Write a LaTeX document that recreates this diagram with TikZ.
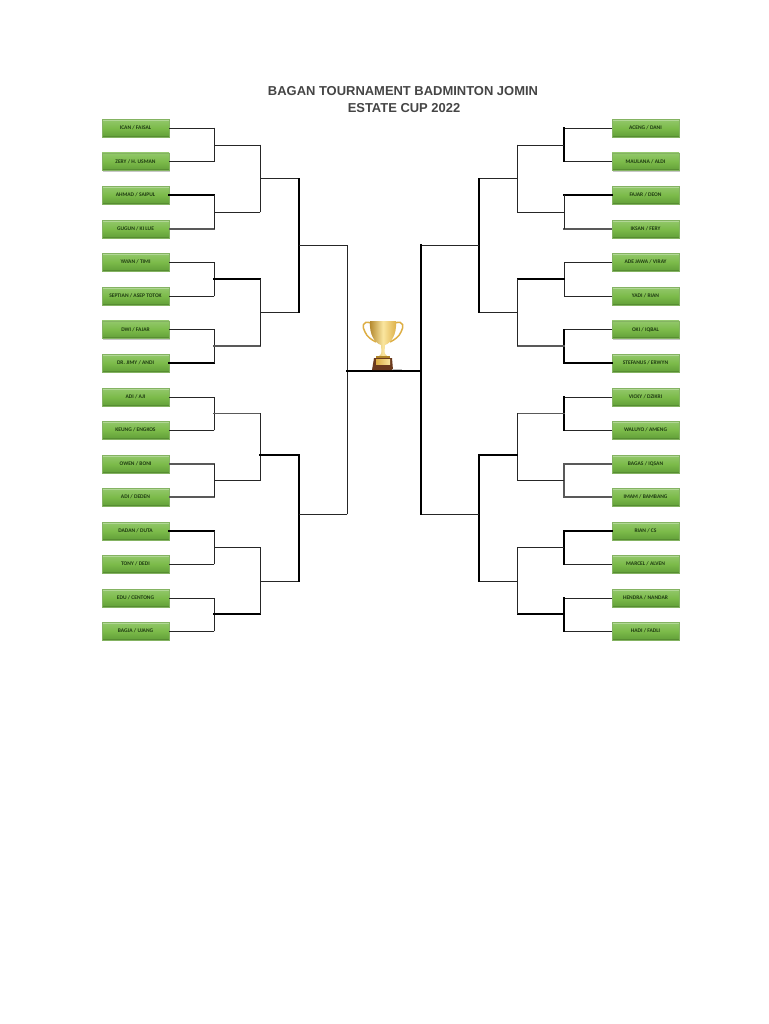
\documentclass[tikz,border=0pt]{standalone}
\usepackage{fontspec}
\setmainfont{Liberation Sans}
\newfontfamily\boxfont{Carlito}
\usetikzlibrary{shadows,calc}
\definecolor{titlegray}{HTML}{454545}
\definecolor{cuplight}{HTML}{FAE6A0}
\definecolor{cupmid}{HTML}{DDAE44}
\definecolor{cupdark}{HTML}{B08428}
\definecolor{basedark}{HTML}{6B3A1E}
\definecolor{boxtop}{HTML}{93C86C}
\definecolor{boxmid}{HTML}{7CBB4A}
\definecolor{boxbot}{HTML}{629F38}
\definecolor{boxedge}{HTML}{84B362}
\definecolor{textdark}{HTML}{1E3A12}
\tikzset{
 team/.style={minimum width=67pt,minimum height=17.5pt,inner sep=0pt,
   top color=boxtop,bottom color=boxbot,middle color=boxmid,
   draw=boxedge,line width=.4pt,
   drop shadow={shadow xshift=.6pt,shadow yshift=-1.4pt,opacity=.22,fill=black},
   path picture={
     \fill[white,opacity=.3] (path picture bounding box.north west) rectangle ($(path picture bounding box.north east)+(0,1.4)$);
     \fill[black,opacity=.12] (path picture bounding box.south west) rectangle ($(path picture bounding box.south east)+(0,-1.2)$);
   },
   font=\boxfont\bfseries\fontsize{5.5}{6}\selectfont,text=textdark},
 thinln/.style={line width=.9pt,black!85,line cap=rect},
 grayln/.style={line width=1.25pt,black!65,line cap=rect},
 thickln/.style={line width=1.9pt,black,line cap=rect},
 titletext/.style={font=\bfseries\fontsize{12.95}{15}\selectfont,text=titlegray,inner sep=0pt}
}
% one horizontal arm: style, source, junction
\newcommand{\arm}[3]{\draw[#1] (#2) -- (#2 -| #3);}
% one vertical arm: style, source, junction
\newcommand{\rise}[3]{\draw[#1] (#2 -| #3) -- (#3);}
\begin{document}
\begin{tikzpicture}[x=1pt,y=-1pt]
\useasboundingbox (0,0) rectangle (768,1024);
\fill[white] (0,0) rectangle (768,1024);
\node[titletext] (t1) at (403,91) {BAGAN TOURNAMENT BADMINTON JOMIN};
\node[titletext] (t2) at (404,108) {ESTATE CUP 2022};
% team boxes
\foreach \n/\y/\txt in {1/128/{ICAN / FAISAL},2/161.5/{ZERY / H. USMAN},3/195/{AHMAD / SAIPUL},4/229/{GUGUN / KI LUE},5/262/{YAYAN / TIMI},6/296/{SEPTIAN / ASEP TOTOK},7/329.5/{DWI / FAJAR},8/363/{DR. JIMY / ANDI},9/397/{ADI / AJI},10/430/{KEUNG / ENGKOS},11/464/{OWEN / BONI},12/497/{ADI / DEDEN},13/531/{DADAN / DUTA},14/564/{TONY / DEDI},15/598/{EDU / CENTONG},16/631/{BAGJA / UJANG}}
  \node[team] (L\n) at (135.5,\y) {\txt};
\foreach \n/\y/\txt in {1/128/{ACENG / DANI},2/161.5/{MAULANA / ALDI},3/195/{FAJAR / DEON},4/229/{IKSAN / FERY},5/262/{ADE JAWA / VIRAY},6/296/{YADI / RIAN},7/329.5/{OKI / IQBAL},8/363/{STEFANUS / ERWYN},9/397/{VICKY / DZIKRI},10/430/{WALUYO / AMENG},11/464/{BAGAS / IQSAN},12/497/{IMAM / BAMBANG},13/531/{RIAN / CS},14/564/{MARCEL / ALVEN},15/598/{HENDRA / NANDAR},16/631/{HADI / FADLI}}
  \node[team] (R\n) at (645.5,\y) {\txt};
% junctions
\foreach \n/\y in {1/145,2/212,3/279,4/346,5/413.5,6/480.5,7/547.5,8/614}{
  \coordinate (la\n) at (214,\y);
  \coordinate (ra\n) at (564,\y);
}
\foreach \n/\y in {1/178.5,2/312.5,3/455,4/581}{
  \coordinate (lb\n) at (260,\y);
  \coordinate (rb\n) at (517.5,\y);
}
\coordinate (lc1) at (299,245); \coordinate (lc2) at (299,514);
\coordinate (rc1) at (479,245); \coordinate (rc2) at (479,514);
\coordinate (ld) at (347,371); \coordinate (rd) at (421,371);
% left round 1, horizontal arms
\arm{thinln}{L1.east}{la1} \arm{thinln}{L2.east}{la1}
\arm{thickln}{L3.east}{la2} \arm{grayln}{L4.east}{la2}
\arm{thinln}{L5.east}{la3} \arm{thinln}{L6.east}{la3}
\arm{thinln}{L7.east}{la4} \arm{thickln}{L8.east}{la4}
\arm{thinln}{L9.east}{la5} \arm{thinln}{L10.east}{la5}
\arm{grayln}{L11.east}{la6} \arm{grayln}{L12.east}{la6}
\arm{thickln}{L13.east}{la7} \arm{thinln}{L14.east}{la7}
\arm{thinln}{L15.east}{la8} \arm{thinln}{L16.east}{la8}
% left round 1, verticals
\foreach \a/\b/\j in {1/2/1,3/4/2,5/6/3,7/8/4,9/10/5,11/12/6,13/14/7,15/16/8}{
  \rise{thinln}{L\a.east}{la\j} \rise{thinln}{L\b.east}{la\j}
}
% left round 2
\arm{thinln}{la1}{lb1} \arm{thinln}{la2}{lb1}
\arm{thickln}{la3}{lb2} \arm{grayln}{la4}{lb2}
\arm{grayln}{la5}{lb3} \arm{thinln}{la6}{lb3}
\arm{thinln}{la7}{lb4} \arm{thickln}{la8}{lb4}
\foreach \a/\b/\j in {1/2/1,3/4/2,5/6/3,7/8/4}{
  \rise{thinln}{la\a}{lb\j} \rise{thinln}{la\b}{lb\j}
}
% left round 3
\arm{thinln}{lb1}{lc1} \arm{thinln}{lb2}{lc1}
\arm{thickln}{lb3}{lc2} \arm{thinln}{lb4}{lc2}
\foreach \a/\b/\j in {1/2/1,3/4/2}{
  \rise{thickln}{lb\a}{lc\j} \rise{thickln}{lb\b}{lc\j}
}
% left round 4
\arm{thinln}{lc1}{ld} \arm{thinln}{lc2}{ld}
\rise{thinln}{lc1}{ld} \rise{thinln}{lc2}{ld}
% right round 1
\arm{thinln}{R1.west}{ra1} \arm{thinln}{R2.west}{ra1}
\arm{thickln}{R3.west}{ra2} \arm{grayln}{R4.west}{ra2}
\arm{thinln}{R5.west}{ra3} \arm{thinln}{R6.west}{ra3}
\arm{thinln}{R7.west}{ra4} \arm{thickln}{R8.west}{ra4}
\arm{thinln}{R9.west}{ra5} \arm{thinln}{R10.west}{ra5}
\arm{grayln}{R11.west}{ra6} \arm{grayln}{R12.west}{ra6}
\arm{thickln}{R13.west}{ra7} \arm{thinln}{R14.west}{ra7}
\arm{thinln}{R15.west}{ra8} \arm{thinln}{R16.west}{ra8}
\rise{thickln}{R1.west}{ra1} \rise{thickln}{R2.west}{ra1}
\rise{thinln}{R3.west}{ra2} \rise{thinln}{R4.west}{ra2}
\rise{thinln}{R5.west}{ra3} \rise{thinln}{R6.west}{ra3}
\rise{thickln}{R7.west}{ra4} \rise{thickln}{R8.west}{ra4}
\rise{thickln}{R9.west}{ra5} \rise{thickln}{R10.west}{ra5}
\rise{grayln}{R11.west}{ra6} \rise{grayln}{R12.west}{ra6}
\rise{thickln}{R13.west}{ra7} \rise{thickln}{R14.west}{ra7}
\rise{thickln}{R15.west}{ra8} \rise{thickln}{R16.west}{ra8}
% right round 2
\arm{thinln}{ra1}{rb1} \arm{thinln}{ra2}{rb1}
\arm{thickln}{ra3}{rb2} \arm{grayln}{ra4}{rb2}
\arm{grayln}{ra5}{rb3} \arm{thinln}{ra6}{rb3}
\arm{thinln}{ra7}{rb4} \arm{thickln}{ra8}{rb4}
\foreach \a/\b/\j in {1/2/1,3/4/2,5/6/3,7/8/4}{
  \rise{thinln}{ra\a}{rb\j} \rise{thinln}{ra\b}{rb\j}
}
% right round 3
\arm{thinln}{rb1}{rc1} \arm{thinln}{rb2}{rc1}
\arm{thickln}{rb3}{rc2} \arm{thinln}{rb4}{rc2}
\foreach \a/\b/\j in {1/2/1,3/4/2}{
  \rise{thickln}{rb\a}{rc\j} \rise{thickln}{rb\b}{rc\j}
}
% right round 4
\arm{thinln}{rc1}{rd} \arm{thinln}{rc2}{rd}
\rise{thickln}{rc1}{rd} \rise{thickln}{rc2}{rd}
% final
\draw[thickln] (ld) -- (rd);
% trophy
\begin{scope}[shift={(383,0)}]
 \draw[cupmid,line width=1.5pt,fill=none] (-12,323) .. controls (-21,320) and (-21,327) .. (-18,332) .. controls (-16,337) and (-11,340) .. (-7,342);
 \draw[cupmid,line width=1.5pt,fill=none] (12,323) .. controls (21,320) and (21,327) .. (18,332) .. controls (16,337) and (11,340) .. (7,342);
 \shade[left color=cupdark,right color=cupmid,middle color=cuplight]
   (-13,321) -- (13,321) .. controls (14,335) and (8,343) .. (2,345) -- (1.5,352) .. controls (1.5,354) and (3,355) .. (4,356)
   -- (-4,356) .. controls (-3,355) and (-1.5,354) .. (-1.5,352) -- (-2,345) .. controls (-8,343) and (-14,335) .. (-13,321) -- cycle;
 \fill[cupdark] (-7,356) rectangle (7,358);
 \fill[basedark] (-9,358) -- (9,358) -- (10,370) -- (-11,370) -- cycle;
 \shade[left color=cupmid,right color=cuplight] (-7,359) rectangle (7,364);
 \fill[black!25] (9,368.5) rectangle (19,370);
\end{scope}
\end{tikzpicture}
\end{document}
